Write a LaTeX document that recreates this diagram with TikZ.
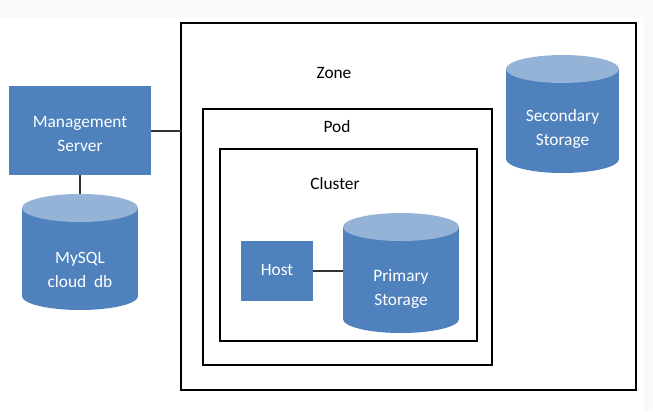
\documentclass[tikz,border=0pt]{standalone}
\usepackage{fontspec}
\setmainfont{Carlito}
\definecolor{dbblue}{HTML}{4F81BD}
\definecolor{dbtop}{HTML}{95B3D7}
\definecolor{edge}{HTML}{FAFAFA}
\tikzset{
  frame/.style={draw=black, line width=0.8pt, fill=none},
  bluebox/.style={fill=dbblue, draw=none, inner sep=0pt},
  lbl/.style={text=black, font=\fontsize{13}{18}\selectfont},
  wtext/.style={text=white, align=center, inner sep=0pt, font=\fontsize{13}{18}\selectfont},
  conn/.style={draw=black!80, line width=0.8pt},
}
\newcommand{\dbcyl}[7]{%
  % name, x1, y1, x2, y2, text, text centre y
  \pgfmathsetmacro{\cx}{(#2+#4)/2}
  \pgfmathsetmacro{\rx}{(#4-#2)/2*0.75}
  \fill[dbblue] (#2,#3+14) rectangle (#4,#5-14);
  \fill[dbblue] (\cx,#5-14) ellipse [x radius=\rx pt, y radius=10.5pt];
  \fill[dbtop] (\cx,#3+14) ellipse [x radius=\rx pt, y radius=10.5pt];
  \node[inner sep=0pt, minimum width={(#4-#2)*0.75pt}, minimum height={(#5-#3-28)*0.75pt}] (#1) at (\cx,{(#3+#5)/2+4}) {};
  \node[wtext] at (\cx,#7) {#6};
}
\begin{document}
\begin{tikzpicture}[x=0.75pt, y=-0.75pt]
\fill[edge] (0,0) rectangle (653,411);
\fill[white] (0,18) rectangle (644,411);
\useasboundingbox (0,0) rectangle (653,411);

% frames
\draw[frame] (181,23) rectangle (636,390);
\draw[frame] (203,109) rectangle (492,365);
\draw[frame] (220,149) rectangle (477,341);
\coordinate (zoneL) at (181,131);

\node[lbl] (zone) at (334,73) {Zone};
\node[lbl] (pod) at (337,127) {Pod};
\node[lbl] (cluster) at (335,184) {Cluster};

% management server
\node[bluebox, minimum width=142*0.75pt, minimum height=89*0.75pt] (ms) at (80,130.5) {};
\node[wtext] (mstext) at (80,134) {Management\\Server};

% host
\node[bluebox, minimum width=72*0.75pt, minimum height=60*0.75pt] (host) at (277,271) {};
\node[wtext] (hosttext) at (277,270) {Host};

% cylinders
\dbcyl{mysql}{22}{194}{138}{310}{MySQL\\cloud\ \ db}{270}
\dbcyl{primary}{343}{213}{459}{333}{Primary\\Storage}{289}
\dbcyl{secondary}{506}{55}{619}{173}{Secondary\\Storage}{129}

% connectors
\draw[conn] (ms.east |- zoneL) -- (zoneL);
\draw[conn] (ms.south) -- (80,194);
\draw[conn] (host.east) -- (host.east -| primary.west);
\end{tikzpicture}
\end{document}
